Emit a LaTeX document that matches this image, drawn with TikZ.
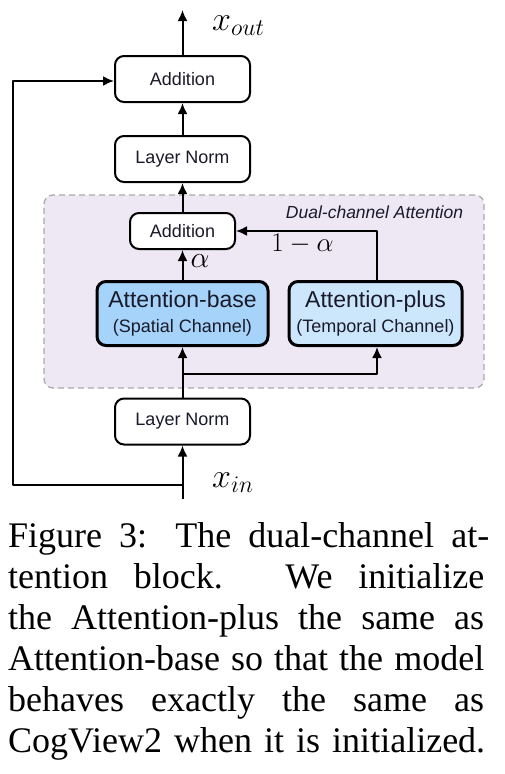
\documentclass[tikz,border=0pt]{standalone}
\usepackage{fix-cm}
\usepackage{fontspec}
\setmainfont{Liberation Serif}
\setsansfont{Liberation Sans}
\usetikzlibrary{arrows.meta}
\definecolor{regionfill}{HTML}{EEE8F5}
\definecolor{regionline}{HTML}{AAAAAA}
\definecolor{basefill}{HTML}{A6D3F9}
\definecolor{plusfill}{HTML}{CCE7FC}
\definecolor{boxtext}{HTML}{1A1A2A}
\tikzset{
  every picture/.style={line join=round},
  plainbox/.style={draw=black, line width=2pt, rounded corners=9pt, fill=white,
    minimum width=135pt, minimum height=46pt, inner sep=0pt,
    font=\sffamily\fontsize{18}{20}\selectfont, text=boxtext},
  attbox/.style={draw=black, line width=3pt, rounded corners=9pt,
    minimum height=64pt, inner sep=0pt, align=center, text=boxtext,
    font=\sffamily\fontsize{23}{25}\selectfont},
  conn/.style={line width=2pt, -{Latex[length=11pt,width=10pt]}},
  mathlbl/.style={inner sep=0pt},
  capline/.style={anchor=base west, inner sep=0pt, font=\fontsize{36}{41}\selectfont}
}
\begin{document}
\begin{tikzpicture}[x=1pt,y=-1pt]
\useasboundingbox (0,0) rectangle (504,774);
% region
\node[draw=regionline, dashed, dash pattern=on 6pt off 4pt, line width=1.3pt, fill=regionfill,
  rounded corners=9pt, minimum width=440pt, minimum height=193pt, inner sep=0pt]
  (region) at (264,291.5) {};
\node[font=\sffamily\itshape\fontsize{17.5}{20}\selectfont, text=boxtext, inner sep=0pt] (reglbl) at (374.5,212) {Dual-channel Attention};
% boxes
\node[plainbox] (add) at (182.5,79) {Addition};
\node[plainbox] (ln2) at (182.5,159) {Layer Norm};
\node[plainbox, minimum width=105pt, minimum height=36pt] (iadd) at (182.5,231) {Addition};
\node[attbox, fill=basefill, minimum width=171pt] (base) at (182.5,313.5)
  {Attention-base\\[0pt]{\fontsize{18}{20}\selectfont (Spatial Channel)}};
\node[attbox, fill=plusfill, minimum width=173pt] (plus) at (375.5,313.5)
  {Attention-plus\\[0pt]{\fontsize{18}{20}\selectfont (Temporal Channel)}};
\node[plainbox] (ln1) at (182.5,421.5) {Layer Norm};
% coordinates
\coordinate (out) at (182.5,10);
\coordinate (in) at (182.5,499);
\coordinate (skip) at (182.5,485);
\coordinate (split) at (182.5,374);
% connectors
\draw[conn] (add.north) -- (out);
\draw[conn] (ln2.north) -- (add.south);
\draw[conn] (iadd.north) -- (ln2.south);
\draw[conn] (base.north) -- (iadd.south);
\draw[conn] (plus.north -| 377,0) |- (iadd.east);
\draw[conn] (ln1.north) -- (base.south);
\draw[conn] (split) -| (plus.south -| 377,0);
\draw[conn] (in) -- (ln1.south);
\draw[conn] (skip) -- (13,485) |- (add.west |- 0,81);
% labels
\node[mathlbl, anchor=base west, font=\fontsize{34}{36}\selectfont] (xout) at (212,30) {$x_{out}$};
\node[mathlbl, anchor=base west, font=\fontsize{34}{36}\selectfont] (xin) at (212,487) {$x_{in}$};
\node[mathlbl, font=\fontsize{30}{32}\selectfont] (alpha) at (200,261) {$\alpha$};
\node[mathlbl, font=\fontsize{27}{29}\selectfont] (oma) at (302.5,244) {$1-\alpha$};
% caption
\node[capline] (c1) at (8,547) {\makebox[481pt][s]{Figure 3: The dual-channel at-}};
\node[capline] (c2) at (8,588) {\makebox[476pt][s]{tention block. We initialize}};
\node[capline] (c3) at (8,629) {\makebox[476pt][s]{the Attention-plus the same as}};
\node[capline] (c4) at (8,670) {\makebox[476pt][s]{Attention-base so that the model}};
\node[capline] (c5) at (8,711) {\makebox[476pt][s]{behaves exactly the same as}};
\node[capline] (c6) at (8,752) {\makebox[477pt][s]{CogView2 when it is initialized.}};
\end{tikzpicture}
\end{document}
